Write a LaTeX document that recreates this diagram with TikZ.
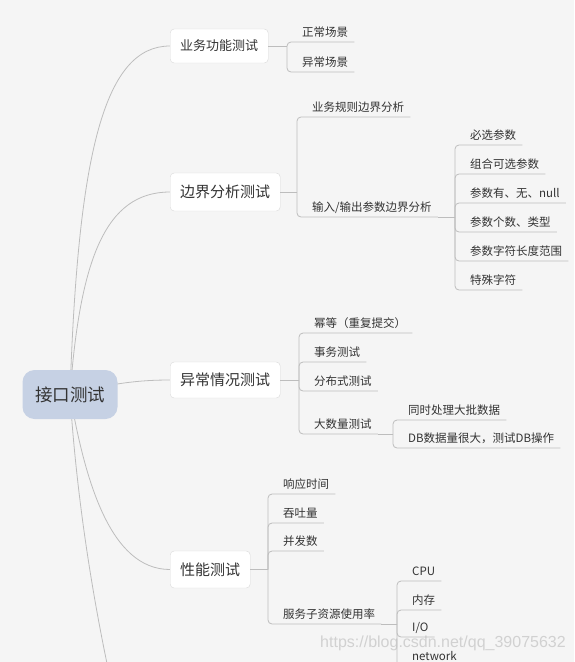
\documentclass[tikz,border=0pt]{standalone}
\usepackage{fontspec}
\setmainfont{Noto Sans CJK SC}
\newfontfamily\wmfont{Liberation Sans}
\usepackage{tikz}
\usetikzlibrary{backgrounds}
\definecolor{pagebg}{HTML}{F5F5F5}
\definecolor{rootfill}{HTML}{C6D1E4}
\definecolor{linkgray}{HTML}{BDBDBD}
\definecolor{boxline}{HTML}{DADADA}
\definecolor{inkgray}{HTML}{333333}
\tikzset{
  rootbox/.style={
    draw=none, fill=rootfill, rounded corners=12pt, align=center,
    minimum width=95pt, minimum height=49pt,
    font=\fontsize{17.5}{20}\selectfont, text=inkgray
  },
  topicbox/.style={
    draw=boxline, fill=white, rounded corners=4pt, anchor=west,
    inner xsep=10pt, minimum height=36pt,
    font=\fontsize{15}{18}\selectfont, text=inkgray
  },
  leafnode/.style={
    anchor=south west, inner xsep=6pt, inner ysep=3pt,
    text height=9pt, text depth=2pt,
    font=\fontsize{11.5}{13}\selectfont, text=inkgray
  },
  maplink/.style={draw=linkgray, line width=0.8pt},
  leaflink/.style={maplink, rounded corners=4pt},
}

\begin{document}
\begin{tikzpicture}[x=1pt, y=-1pt]
  \useasboundingbox (0,0) rectangle (574,662);

  % Central: root topic
  \node[rootbox] (root) at (70,394.5) {接口测试};

  % Main topics
  \node[topicbox, minimum height=34pt, font=\fontsize{13}{16}\selectfont]
    (func) at (170,46) {业务功能测试};
  \node[topicbox, minimum height=38pt] (bound) at (170,192) {边界分析测试};
  \node[topicbox] (excp) at (170,380) {异常情况测试};
  \node[topicbox, minimum height=37pt] (perf) at (170,569.5) {性能测试};
  \coordinate (more) at (122,730);

  % Bracket points
  \coordinate (funcv) at (287,46);
  \coordinate (boundv) at (297,192);
  \coordinate (iov) at (455,217);
  \coordinate (excpv) at (299,380);
  \coordinate (bulkv) at (393,434);
  \coordinate (perfv) at (268,569.5);
  \coordinate (resv) at (397,624);

  % Leaves: functional
  \node[leafnode] (normal) at (296,42) {正常场景};
  \node[leafnode] (abnormal) at (296,72) {异常场景};

  % Leaves: boundary
  \node[leafnode] (rule) at (306,117) {业务规则边界分析};
  \node[leafnode] (io) at (306,217) {输入/输出参数边界分析};
  \node[leafnode] (must) at (464,145) {必选参数};
  \node[leafnode] (combo) at (464,174) {组合可选参数};
  \node[leafnode] (nullval) at (464,203) {参数有、无、null};
  \node[leafnode] (count) at (464,232) {参数个数、类型};
  \node[leafnode] (len) at (464,261) {参数字符长度范围};
  \node[leafnode] (special) at (464,290) {特殊字符};

  % Leaves: exceptions
  \node[leafnode] (idem) at (308,333) {幂等（重复提交）};
  \node[leafnode] (trans) at (308,362) {事务测试};
  \node[leafnode] (dist) at (308,391) {分布式测试};
  \node[leafnode] (bulk) at (308,434) {大数量测试};
  \node[leafnode] (batch) at (402,420) {同时处理大批数据};
  \node[leafnode] (dbops) at (402,448) {DB数据量很大，测试DB操作};

  % Leaves: performance
  \node[leafnode] (resp) at (277,494) {响应时间};
  \node[leafnode] (tput) at (277,523) {吞吐量};
  \node[leafnode] (conc) at (277,551) {并发数};
  \node[leafnode] (res) at (277,624) {服务子资源使用率};
  \node[leafnode] (cpu) at (406,581) {CPU};
  \node[leafnode] (mem) at (406,610) {内存};
  \node[leafnode] (iops) at (406,637) {I/O};
  \node[leafnode] (net) at (406,666) {network};

  % Watermark
  \node[font=\wmfont\fontsize{16}{18}\selectfont, text=black!18] (mark)
    at (443,643) {https://blog.csdn.net/qq\_39075632};

  % Curves from the root
  \begin{scope}[on background layer]
    \clip (0,0) rectangle (574,662);
    \fill[pagebg] (0,0) rectangle (574,662);
    \draw[maplink] (root.center) .. controls (78,150) and (105,46) .. (func.west);
    \draw[maplink] (root.center) .. controls (80,260) and (105,192) .. (bound.west);
    \draw[maplink] (root.center) .. controls (112,383) and (140,380) .. (excp.west);
    \draw[maplink] (root.center) .. controls (85,480) and (110,569.5) .. (perf.west);
    \draw[maplink] (root.center) .. controls (78,520) and (100,640) .. (more);
  \end{scope}

  % Links: functional
  \draw[maplink] (func.east) -- (funcv);
  \draw[leaflink] (funcv) |- (normal.south east);
  \draw[leaflink] (funcv) |- (abnormal.south east);

  % Links: boundary
  \draw[maplink] (bound.east) -- (boundv);
  \draw[leaflink] (boundv) |- (rule.south east);
  \draw[leaflink] (boundv) |- (io.south east);
  \draw[maplink] (io.south east) -- (iov);
  \draw[leaflink] (iov) |- (must.south east);
  \draw[leaflink] (iov) |- (combo.south east);
  \draw[leaflink] (iov) |- (nullval.south east);
  \draw[leaflink] (iov) |- (count.south east);
  \draw[leaflink] (iov) |- (len.south east);
  \draw[leaflink] (iov) |- (special.south east);

  % Links: exceptions
  \draw[maplink] (excp.east) -- (excpv);
  \draw[leaflink] (excpv) |- (idem.south east);
  \draw[leaflink] (excpv) |- (trans.south east);
  \draw[leaflink] (excpv) |- (dist.south east);
  \draw[leaflink] (excpv) |- (bulk.south east);
  \draw[maplink] (bulk.south east) -- (bulkv);
  \draw[leaflink] (bulkv) |- (batch.south east);
  \draw[leaflink] (bulkv) |- (dbops.south east);

  % Links: performance
  \draw[maplink] (perf.east) -- (perfv);
  \draw[leaflink] (perfv) |- (resp.south east);
  \draw[leaflink] (perfv) |- (tput.south east);
  \draw[leaflink] (perfv) |- (conc.south east);
  \draw[leaflink] (perfv) |- (res.south east);
  \draw[maplink] (res.south east) -- (resv);
  \draw[leaflink] (resv) |- (cpu.south east);
  \draw[leaflink] (resv) |- (mem.south east);
  \draw[leaflink] (resv) |- (iops.south east);
  \draw[leaflink] (resv) |- (net.south east);
\end{tikzpicture}
\end{document}
